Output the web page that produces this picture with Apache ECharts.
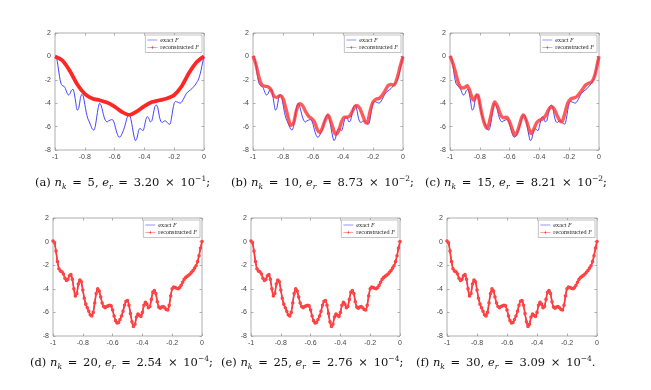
<!DOCTYPE html>
<html>
<head>
<meta charset="utf-8">
<script src="https://cdn.jsdelivr.net/npm/echarts@6/dist/echarts.min.js"></script>
<style>html,body{margin:0;padding:0;background:#fff}#c{width:651px;height:390px}</style>
</head>
<body>
<div id="c"></div>
<script>
// ---- data ----
const xTicks = [-1, -0.8, -0.6, -0.4, -0.2, 0];
const yTicks = [-8, -6, -4, -2, 0, 2];

const exactX = [-1.00,-0.99,-0.98,-0.97,-0.96,-0.95,-0.94,-0.93,-0.92,-0.91,-0.90,-0.89,-0.88,-0.87,-0.86,-0.85,-0.84,-0.83,-0.82,-0.81,-0.80,-0.79,-0.78,-0.77,-0.76,-0.75,-0.74,-0.73,-0.72,-0.71,-0.70,-0.69,-0.68,-0.67,-0.66,-0.65,-0.64,-0.63,-0.62,-0.61,-0.60,-0.59,-0.58,-0.57,-0.56,-0.55,-0.54,-0.53,-0.52,-0.51,-0.50,-0.49,-0.48,-0.47,-0.46,-0.45,-0.44,-0.43,-0.42,-0.41,-0.40,-0.39,-0.38,-0.37,-0.36,-0.35,-0.34,-0.33,-0.32,-0.31,-0.30,-0.29,-0.28,-0.27,-0.26,-0.25,-0.24,-0.23,-0.22,-0.21,-0.20,-0.19,-0.18,-0.17,-0.16,-0.15,-0.14,-0.13,-0.12,-0.11,-0.10,-0.09,-0.08,-0.07,-0.06,-0.05,-0.04,-0.03,-0.02,-0.01,0.00];
const exactY = [0.05,-0.1,-0.8,-1.7,-2.3,-2.5,-2.55,-2.75,-3.1,-3.3,-3.2,-2.9,-2.8,-3.2,-4.0,-4.6,-4.4,-3.6,-3.25,-3.4,-4.1,-4.8,-5.3,-5.6,-5.9,-6.2,-6.3,-6.0,-5.2,-4.4,-4.0,-4.2,-4.7,-5.2,-5.5,-5.6,-5.5,-5.45,-5.4,-5.45,-5.8,-6.3,-6.7,-6.9,-6.85,-6.6,-6.3,-5.9,-5.4,-5.05,-5.0,-5.4,-6.1,-6.8,-7.2,-7.0,-6.4,-6.15,-6.25,-6.35,-6.0,-5.4,-5.15,-5.3,-5.6,-5.5,-4.9,-4.3,-4.15,-4.4,-5.1,-5.55,-5.65,-5.55,-5.5,-5.6,-5.75,-5.8,-5.4,-4.6,-4.0,-3.85,-3.9,-3.95,-4.0,-3.9,-3.7,-3.45,-3.2,-3.05,-2.95,-2.85,-2.75,-2.6,-2.45,-2.25,-2.05,-1.7,-1.2,-0.55,0.0];

const rec5X = [-1,-0.95,-0.9,-0.85,-0.8,-0.75,-0.7,-0.65,-0.6,-0.55,-0.5,-0.45,-0.4,-0.35,-0.3,-0.25,-0.2,-0.15,-0.1,-0.05,0];
const rec5Y = [0.0,-0.35,-1.25,-2.4,-3.2,-3.6,-3.75,-3.95,-4.3,-4.75,-5.0,-4.7,-4.25,-3.9,-3.75,-3.6,-3.3,-2.55,-1.4,-0.5,0.0];

const rec10X = [-1,-0.98,-0.96,-0.94,-0.92,-0.90,-0.88,-0.86,-0.84,-0.82,-0.80,-0.78,-0.76,-0.75,-0.73,-0.71,-0.69,-0.67,-0.65,-0.63,-0.61,-0.59,-0.57,-0.555,-0.54,-0.52,-0.50,-0.48,-0.46,-0.45,-0.43,-0.41,-0.39,-0.37,-0.35,-0.33,-0.31,-0.29,-0.27,-0.25,-0.24,-0.22,-0.20,-0.18,-0.16,-0.14,-0.12,-0.10,-0.08,-0.06,-0.04,-0.02,0];
const rec10Y = [0.05,-0.7,-1.8,-2.45,-2.55,-2.6,-2.85,-3.4,-3.5,-3.35,-3.6,-4.5,-5.5,-5.9,-5.7,-4.6,-4.05,-4.2,-4.7,-5.1,-5.3,-5.6,-6.3,-6.5,-6.2,-5.5,-5.0,-5.6,-6.4,-6.65,-6.4,-5.6,-5.2,-5.2,-5.0,-4.5,-4.2,-4.4,-5.0,-5.65,-5.7,-4.7,-3.9,-3.65,-3.6,-3.35,-2.95,-2.5,-2.4,-2.45,-1.9,-0.9,0.0];

const rec15X = [-1,-0.98,-0.96,-0.94,-0.92,-0.90,-0.885,-0.87,-0.85,-0.84,-0.82,-0.81,-0.79,-0.77,-0.75,-0.73,-0.71,-0.70,-0.68,-0.66,-0.64,-0.62,-0.60,-0.58,-0.565,-0.55,-0.53,-0.51,-0.49,-0.47,-0.455,-0.44,-0.42,-0.40,-0.38,-0.36,-0.34,-0.32,-0.30,-0.28,-0.26,-0.25,-0.23,-0.21,-0.19,-0.17,-0.15,-0.13,-0.11,-0.09,-0.07,-0.05,-0.03,-0.01,0];
const rec15Y = [0.05,-0.6,-1.5,-2.4,-2.7,-2.65,-2.5,-2.85,-3.6,-3.75,-3.3,-3.4,-4.7,-5.7,-6.15,-5.3,-4.2,-3.9,-4.3,-5.0,-5.25,-5.2,-5.6,-6.3,-6.75,-6.5,-5.7,-5.0,-5.4,-6.2,-6.6,-6.3,-5.7,-5.45,-5.35,-5.1,-4.6,-4.3,-4.5,-5.1,-5.55,-5.6,-4.9,-4.0,-3.65,-3.55,-3.45,-3.15,-2.8,-2.45,-2.3,-2.2,-1.7,-0.6,0.0];

// n_k = 20, 25, 30: reconstruction coincides with the exact curve in the picture
const rec20X = exactX, rec20Y = exactY;
const rec25X = exactX, rec25Y = exactY;
const rec30X = exactX, rec30Y = exactY;

const panelLetters = ['a','b','c','d','e','f'];
const panelNk = ['5','10','15','20','25','30'];
const panelErMant = ['3.20','8.73','8.21','2.54','2.76','3.09'];
const panelErExp = ['\u22121','\u22122','\u22122','\u22124','\u22124','\u22124'];
const panelEnd = [';',';',';',';',';','.'];
const legendNames = ['exact F', 'reconstructed F'];

// ---- layout ----
const W = 651;
const boxes = [
  {l:55, r:204, t:33, b:150},
  {l:253, r:403, t:33, b:150},
  {l:450, r:599, t:33, b:150},
  {l:53, r:202, t:218, b:336},
  {l:251, r:400, t:218, b:336},
  {l:447, r:597, t:218, b:336}
];
const captionPos = [
  {x:35, y:183}, {x:231, y:183}, {x:425, y:183},
  {x:30, y:363}, {x:221, y:363}, {x:416, y:363}
];
const recs = [[rec5X,rec5Y],[rec10X,rec10Y],[rec15X,rec15Y],[rec20X,rec20Y],[rec25X,rec25Y],[rec30X,rec30Y]];

function pairs(xs, ys){ return xs.map((x,i)=>[x, ys[i]]); }

const iconLine = 'path://M0,2.15L10,2.15L10,2.85L0,2.85Z M0,0L0.01,0L0,0.01Z M10,5L9.99,5L10,4.99Z';
const iconStar = 'path://M0,2.15L10,2.15L10,2.85L0,2.85Z M5,0.6L5.45,2.05L6.9,2.5L5.45,2.95L5,4.4L4.55,2.95L3.1,2.5L4.55,2.05Z M0,0L0.01,0L0,0.01Z M10,5L9.99,5L10,4.99Z';

const grid=[], xAxis=[], yAxis=[], series=[], legend=[], graphic=[];
const axisCol = '#9a9a9a';
const SP = '\u2002';
const tickStyle = {show:true, inside:true, length:2.5, lineStyle:{color:axisCol, width:0.8}};
const noLine = {show:false, onZero:false};
boxes.forEach((b,i)=>{
  grid.push({left:b.l, top:b.t, width:b.r-b.l, height:b.b-b.t, show:true, borderColor:axisCol, borderWidth:0.8, backgroundColor:'#fff'});
  xAxis.push({gridIndex:i, type:'value', position:'bottom', min:xTicks[0], max:xTicks[xTicks.length-1], interval:0.2,
    axisLine:noLine, splitLine:{show:false}, axisTick:tickStyle,
    axisLabel:{fontSize:7, color:'#444', fontFamily:'Liberation Sans', margin:4,
      formatter:v=>String(Math.round(v*10)/10)}});
  yAxis.push({gridIndex:i, type:'value', position:'left', min:yTicks[0], max:yTicks[yTicks.length-1], interval:2,
    axisLine:noLine, splitLine:{show:false}, axisTick:tickStyle,
    axisLabel:{fontSize:7, color:'#444', fontFamily:'Liberation Sans', margin:4}});
  const nE = 'e'+i, nR = 'r'+i;
  series.push({name:nE, type:'line', xAxisIndex:i, yAxisIndex:i, data:pairs(exactX, exactY),
    symbol:'none', smooth:0.3, lineStyle:{color:'#2f2fff', width:0.9}, itemStyle:{color:'#2f2fff'}, z:2, animation:false});
  let red;
  if (i===0) red = {lineStyle:{color:'#ff2626', width:3.8}, showSymbol:false};
  else if (i<3) red = {lineStyle:{color:'rgba(255,50,50,0.8)', width:3.4}, showSymbol:false};
  else red = {lineStyle:{color:'#ff3a3a', width:1.7}, showSymbol:true, symbolSize:1.6};
  series.push(Object.assign({name:nR, type:'line', xAxisIndex:i, yAxisIndex:i, data:pairs(recs[i][0], recs[i][1]),
    symbol:'emptyCircle', smooth:0.3, itemStyle:{color:'#ff4040', borderWidth:0.5}, z:3, animation:false}, red));
  legend.push({data:[{name:nE, icon:iconLine}, {name:nR, icon:iconStar}], orient:'vertical', right:W-(b.r-2), top:b.t+2,
    itemWidth:10, itemHeight:5, itemGap:1.5, padding:[2,3,2,2],
    itemStyle:{borderWidth:0}, lineStyle:{width:0},
    borderColor:'#9a9a9a', borderWidth:0.6, backgroundColor:'#fff', selectedMode:false,
    formatter:n=>{ const s = n[0]==='e' ? legendNames[0] : legendNames[1]; const p = s.split(' '); return '{t|'+p[0]+' }{i|'+p[1]+'}'; },
    textStyle:{fontSize:6.2, color:'#222', fontFamily:'Liberation Serif', padding:[0,0,0,-2],
      rich:{t:{fontSize:6.2, fontFamily:'Liberation Serif', color:'#222'}, i:{fontSize:6.2, fontFamily:'Liberation Serif', fontStyle:'italic', color:'#222'}}}});
  const cp = captionPos[i];
  graphic.push({type:'text', left:cp.x, top:cp.y-8, silent:true, style:{
    text:'{t|('+panelLetters[i]+') }{i|n}{s|k}{t|'+SP+'='+SP+panelNk[i]+', }{i|e}{s|r}{t|'+SP+'='+SP+panelErMant[i]+SP+'\u00d7'+SP+'10}{p|'+panelErExp[i]+'}{t|'+panelEnd[i]+'}',
    rich:{
      t:{fontFamily:'DejaVu Serif', fontSize:11.5, lineHeight:16, fill:'#111', verticalAlign:'middle'},
      i:{fontFamily:'DejaVu Serif', fontSize:11.5, lineHeight:16, fill:'#111', fontStyle:'italic', verticalAlign:'middle'},
      s:{fontFamily:'DejaVu Serif', fontSize:7.5, lineHeight:8, fill:'#111', fontStyle:'italic', verticalAlign:'bottom'},
      p:{fontFamily:'DejaVu Serif', fontSize:7.5, lineHeight:8, fill:'#111', verticalAlign:'top'}
    }}});
});
// mirrored tick marks on the top and right edges of each box (MATLAB "box on")
boxes.forEach((b,i)=>{
  xAxis.push({gridIndex:i, type:'value', position:'top', min:xTicks[0], max:xTicks[xTicks.length-1], interval:0.2,
    axisLine:noLine, splitLine:{show:false}, axisLabel:{show:false}, axisTick:tickStyle});
  yAxis.push({gridIndex:i, type:'value', position:'right', min:yTicks[0], max:yTicks[yTicks.length-1], interval:2,
    axisLine:noLine, splitLine:{show:false}, axisLabel:{show:false}, axisTick:tickStyle});
});

const chart = echarts.init(document.getElementById('c'), null, {renderer:'canvas'});
chart.setOption({backgroundColor:'#fff', animation:false, grid, xAxis, yAxis, series, legend, graphic});
</script>
</body>
</html>
